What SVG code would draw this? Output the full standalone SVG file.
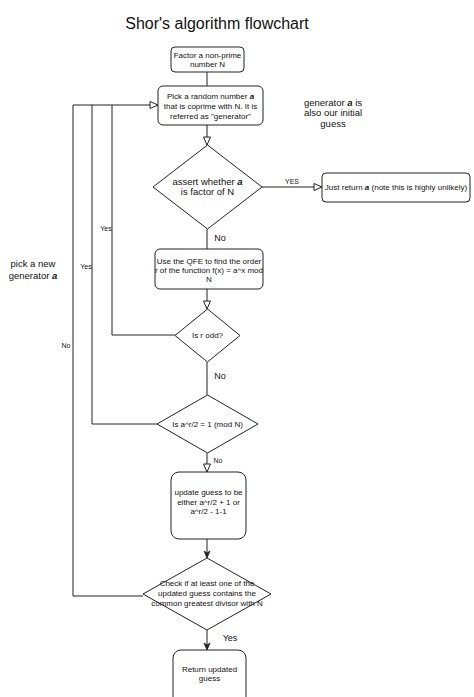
<svg xmlns="http://www.w3.org/2000/svg" width="474" height="697" viewBox="0 0 474 697">
<style>
.n{fill:#fff;stroke:#222;stroke-width:1}
.t{font-family:"Liberation Sans",Arial,sans-serif;fill:#111;text-anchor:middle}
.s8{font-size:8px}
.s9{font-size:9.5px}
.lbl{font-family:"Liberation Sans",Arial,sans-serif;fill:#111;font-size:7px;text-anchor:middle}
.c{fill:none;stroke:#222;stroke-width:1}
.bi{font-weight:bold;font-style:italic}
</style>
<defs>
<marker id="open" markerUnits="userSpaceOnUse" markerWidth="10" markerHeight="10" refX="8" refY="3.5" orient="auto" viewBox="-1 -1 10 9">
<path d="M0,0 L8,3.5 L0,7 z" fill="#fff" stroke="#222" stroke-width="1"/>
</marker>
<marker id="fill" markerUnits="userSpaceOnUse" markerWidth="10" markerHeight="10" refX="7" refY="3" orient="auto" viewBox="-1 -1 10 8">
<path d="M0,0 L7,3 L0,6 L2,3 z" fill="#222" stroke="#222" stroke-width="0.8"/>
</marker>
</defs>
<text class="t" x="217" y="29" font-size="16">Shor's algorithm flowchart</text>

<g id="connectors">
<path class="c" d="M207,72 V86"/>
<path class="c" d="M207,125 V145" marker-end="url(#open)"/>
<path class="c" d="M262,187 H322" marker-end="url(#open)"/>
<path class="c" d="M207,229 V249"/>
<path class="c" d="M207,289 V309" marker-end="url(#open)"/>
<path class="c" d="M175,335 H112 V105"/>
<path class="c" d="M207,362 V395"/>
<path class="c" d="M157,424 H92 V105"/>
<path class="c" d="M207,453 V472" marker-end="url(#open)"/>
<path class="c" d="M207,539 V558" marker-end="url(#fill)"/>
<path class="c" d="M143,596 H73 V105 H158" marker-end="url(#open)"/>
<path class="c" d="M207,630 V650" marker-end="url(#fill)"/>
<text class="lbl" x="292" y="184">YES</text>
<text class="t" x="220" y="241" font-size="9px">No</text>
<text class="lbl" x="106" y="231">Yes</text>
<text class="t" x="220" y="379" font-size="9px">No</text>
<text class="lbl" x="86" y="269">Yes</text>
<text class="lbl" x="218" y="463">No</text>
<text class="lbl" x="66" y="348">No</text>
<text class="t" x="230" y="641" font-size="9px">Yes</text>
</g>

<g id="factor">
<rect class="n" x="171" y="47" width="73" height="25" rx="4"/>
<text class="t s8" x="207.5" y="58">Factor a non-prime</text>
<text class="t s8" x="207.5" y="67">number N</text>
</g>

<g id="pick">
<rect class="n" x="158" y="86" width="105" height="39" rx="5"/>
<text class="t s8" x="210.5" y="99">Pick a random number <tspan class="bi">a</tspan></text>
<text class="t s8" x="210.5" y="109">that is coprime with N. It is</text>
<text class="t s8" x="210.5" y="119">referred as "generator"</text>
</g>

<g id="note-generator">
<text class="t s9" x="333" y="106">generator <tspan class="bi">a</tspan> is</text>
<text class="t s9" x="333" y="116">also our initial</text>
<text class="t s9" x="333" y="127">guess</text>
</g>

<g id="assert">
<polygon class="n" points="207.5,145 262,187 207.5,229 153,187"/>
<text class="t s9" x="207.5" y="185">assert whether <tspan class="bi">a</tspan></text>
<text class="t s9" x="207.5" y="195">is factor of N</text>
</g>

<g id="just-return">
<rect class="n" x="322" y="173" width="148" height="29" rx="4"/>
<text class="t s8" x="396" y="190">Just return <tspan class="bi">a</tspan> (note this is highly unlikely)</text>
</g>

<g id="qfe">
<rect class="n" x="155" y="249" width="108" height="40" rx="5"/>
<text class="t s8" x="209" y="264">Use the QFE to find the order</text>
<text class="t s8" x="209" y="273">r of the function f(x) = a^x mod</text>
<text class="t s8" x="209" y="282">N</text>
</g>

<g id="r-odd">
<polygon class="n" points="207.5,309 240,335.5 207.5,362 175,335.5"/>
<text class="t s8" x="207.5" y="338">Is r odd?</text>
</g>

<g id="mod-check">
<polygon class="n" points="207.5,395 258,424 207.5,453 157,424"/>
<text class="t s8" x="207.5" y="427">Is a^r/2 = 1 (mod N)</text>
</g>

<g id="update">
<rect class="n" x="171" y="472" width="75" height="67" rx="8"/>
<text class="t s8" x="208.5" y="495">update guess to be</text>
<text class="t s8" x="208.5" y="505">either a^r/2 + 1 or</text>
<text class="t s8" x="208.5" y="514">a^r/2 - 1-1</text>
</g>

<g id="gcd-check">
<polygon class="n" points="207,558 271,594 207,630 143,594"/>
<text class="t s8" x="207" y="586">Check if at least one of the</text>
<text class="t s8" x="207" y="596">updated guess contains the</text>
<text class="t s8" x="207" y="606">common greatest divisor with N</text>
</g>

<g id="return">
<rect class="n" x="173" y="650" width="73" height="56" rx="8"/>
<text class="t s8" x="209.5" y="672">Return updated</text>
<text class="t s8" x="209.5" y="681">guess</text>
</g>

<g id="note-new">
<text class="t s9" x="33" y="267">pick a new</text>
<text class="t s9" x="33" y="279">generator <tspan class="bi">a</tspan></text>
</g>
</svg>
